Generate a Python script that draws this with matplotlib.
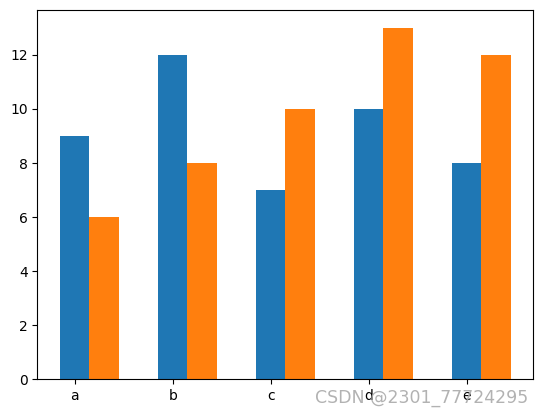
import numpy as np
import matplotlib
matplotlib.use("Agg")
import matplotlib.pyplot as plt

labels = ['a', 'b', 'c', 'd', 'e']
series1 = [9, 12, 7, 10, 8]
series2 = [6, 8, 10, 13, 12]

width = 0.3
x = np.arange(len(labels))

fig = plt.figure(figsize=(5.43, 4.13), dpi=100)
ax = fig.add_axes([0.069, 0.0816, 0.9134, 0.8935])
ax.bar(x, series1, width=width, color='#1f77b4')
ax.bar(x + width, series2, width=width, color='#ff7f0e')
ax.set_xticks(x)
ax.set_xticklabels(labels)

# watermark
fig.text(0.580, 0.025, 'CSDN @2301_77724295', fontsize=12.5, color='#aaaaaa', alpha=0.9)

fig.savefig('out.png', dpi=100)
